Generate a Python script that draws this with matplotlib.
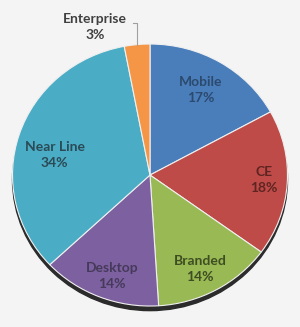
import numpy as np
import matplotlib.pyplot as plt
from matplotlib.patches import Circle

labels = ['Mobile', 'CE', 'Branded', 'Desktop', 'Near Line', 'Enterprise']
values = [17, 18, 14, 14, 34, 3]
colors = ['#4a7ebb', '#be4b48', '#98b954', '#7d60a0', '#4aacc5', '#f59646']
text_colors = ['#2c4a6e', '#5e2422', '#3e4d22', '#463a5a', '#2b4a55', '#404040']

# label placement: (radius fraction, angle tweak in degrees)
label_pos = [(0.75, 1), (0.83, 1), (0.805, -2), (0.82, 2), (0.71, 5.5)]

fig = plt.figure(figsize=(3.0, 3.27), dpi=100)
fig.patch.set_facecolor('#f4f4f4')
ax = fig.add_axes([0, 0, 1, 1])
ax.set_facecolor('#f4f4f4')

# drop shadow
ax.add_patch(Circle((0.0, -0.035), 1.0, color='#2b2b2b', zorder=0))

wedges, _ = ax.pie(values, colors=colors, startangle=90, counterclock=False,
                   radius=1.0, wedgeprops=dict(edgecolor='#f0f0f0', linewidth=0.8))
for w in wedges:
    w.set_zorder(1)

for i, w in enumerate(wedges[:-1]):
    mid = (w.theta1 + w.theta2) / 2.0
    r, tweak = label_pos[i]
    a = np.deg2rad(mid + tweak)
    ax.text(r * np.cos(a), r * np.sin(a), '%s\n%d%%' % (labels[i], values[i]),
            ha='center', va='center', fontsize=10, fontweight='bold',
            family=['Lato', 'DejaVu Sans'], color=text_colors[i],
            linespacing=1.4, zorder=3)

# Enterprise label outside with leader line
w = wedges[-1]
mid = np.deg2rad((w.theta1 + w.theta2) / 2.0)
ex, ey = np.cos(mid), np.sin(mid)
ax.plot([ex, ex, ex - 0.03], [ey, 1.16, 1.16], color='#a0a0a0', lw=0.8, zorder=2)
ax.text(-0.40, 1.13, '%s\n%d%%' % (labels[-1], values[-1]),
        ha='center', va='center', fontsize=10, fontweight='bold',
        family=['Lato', 'DejaVu Sans'], color=text_colors[-1],
        linespacing=1.4, zorder=3)

ax.set_aspect('auto')
ax.set_xlim(-1.091, 1.091)
ax.set_ylim(-1.160, 1.336)
ax.axis('off')

fig.savefig('out.png', dpi=100, facecolor=fig.get_facecolor())
